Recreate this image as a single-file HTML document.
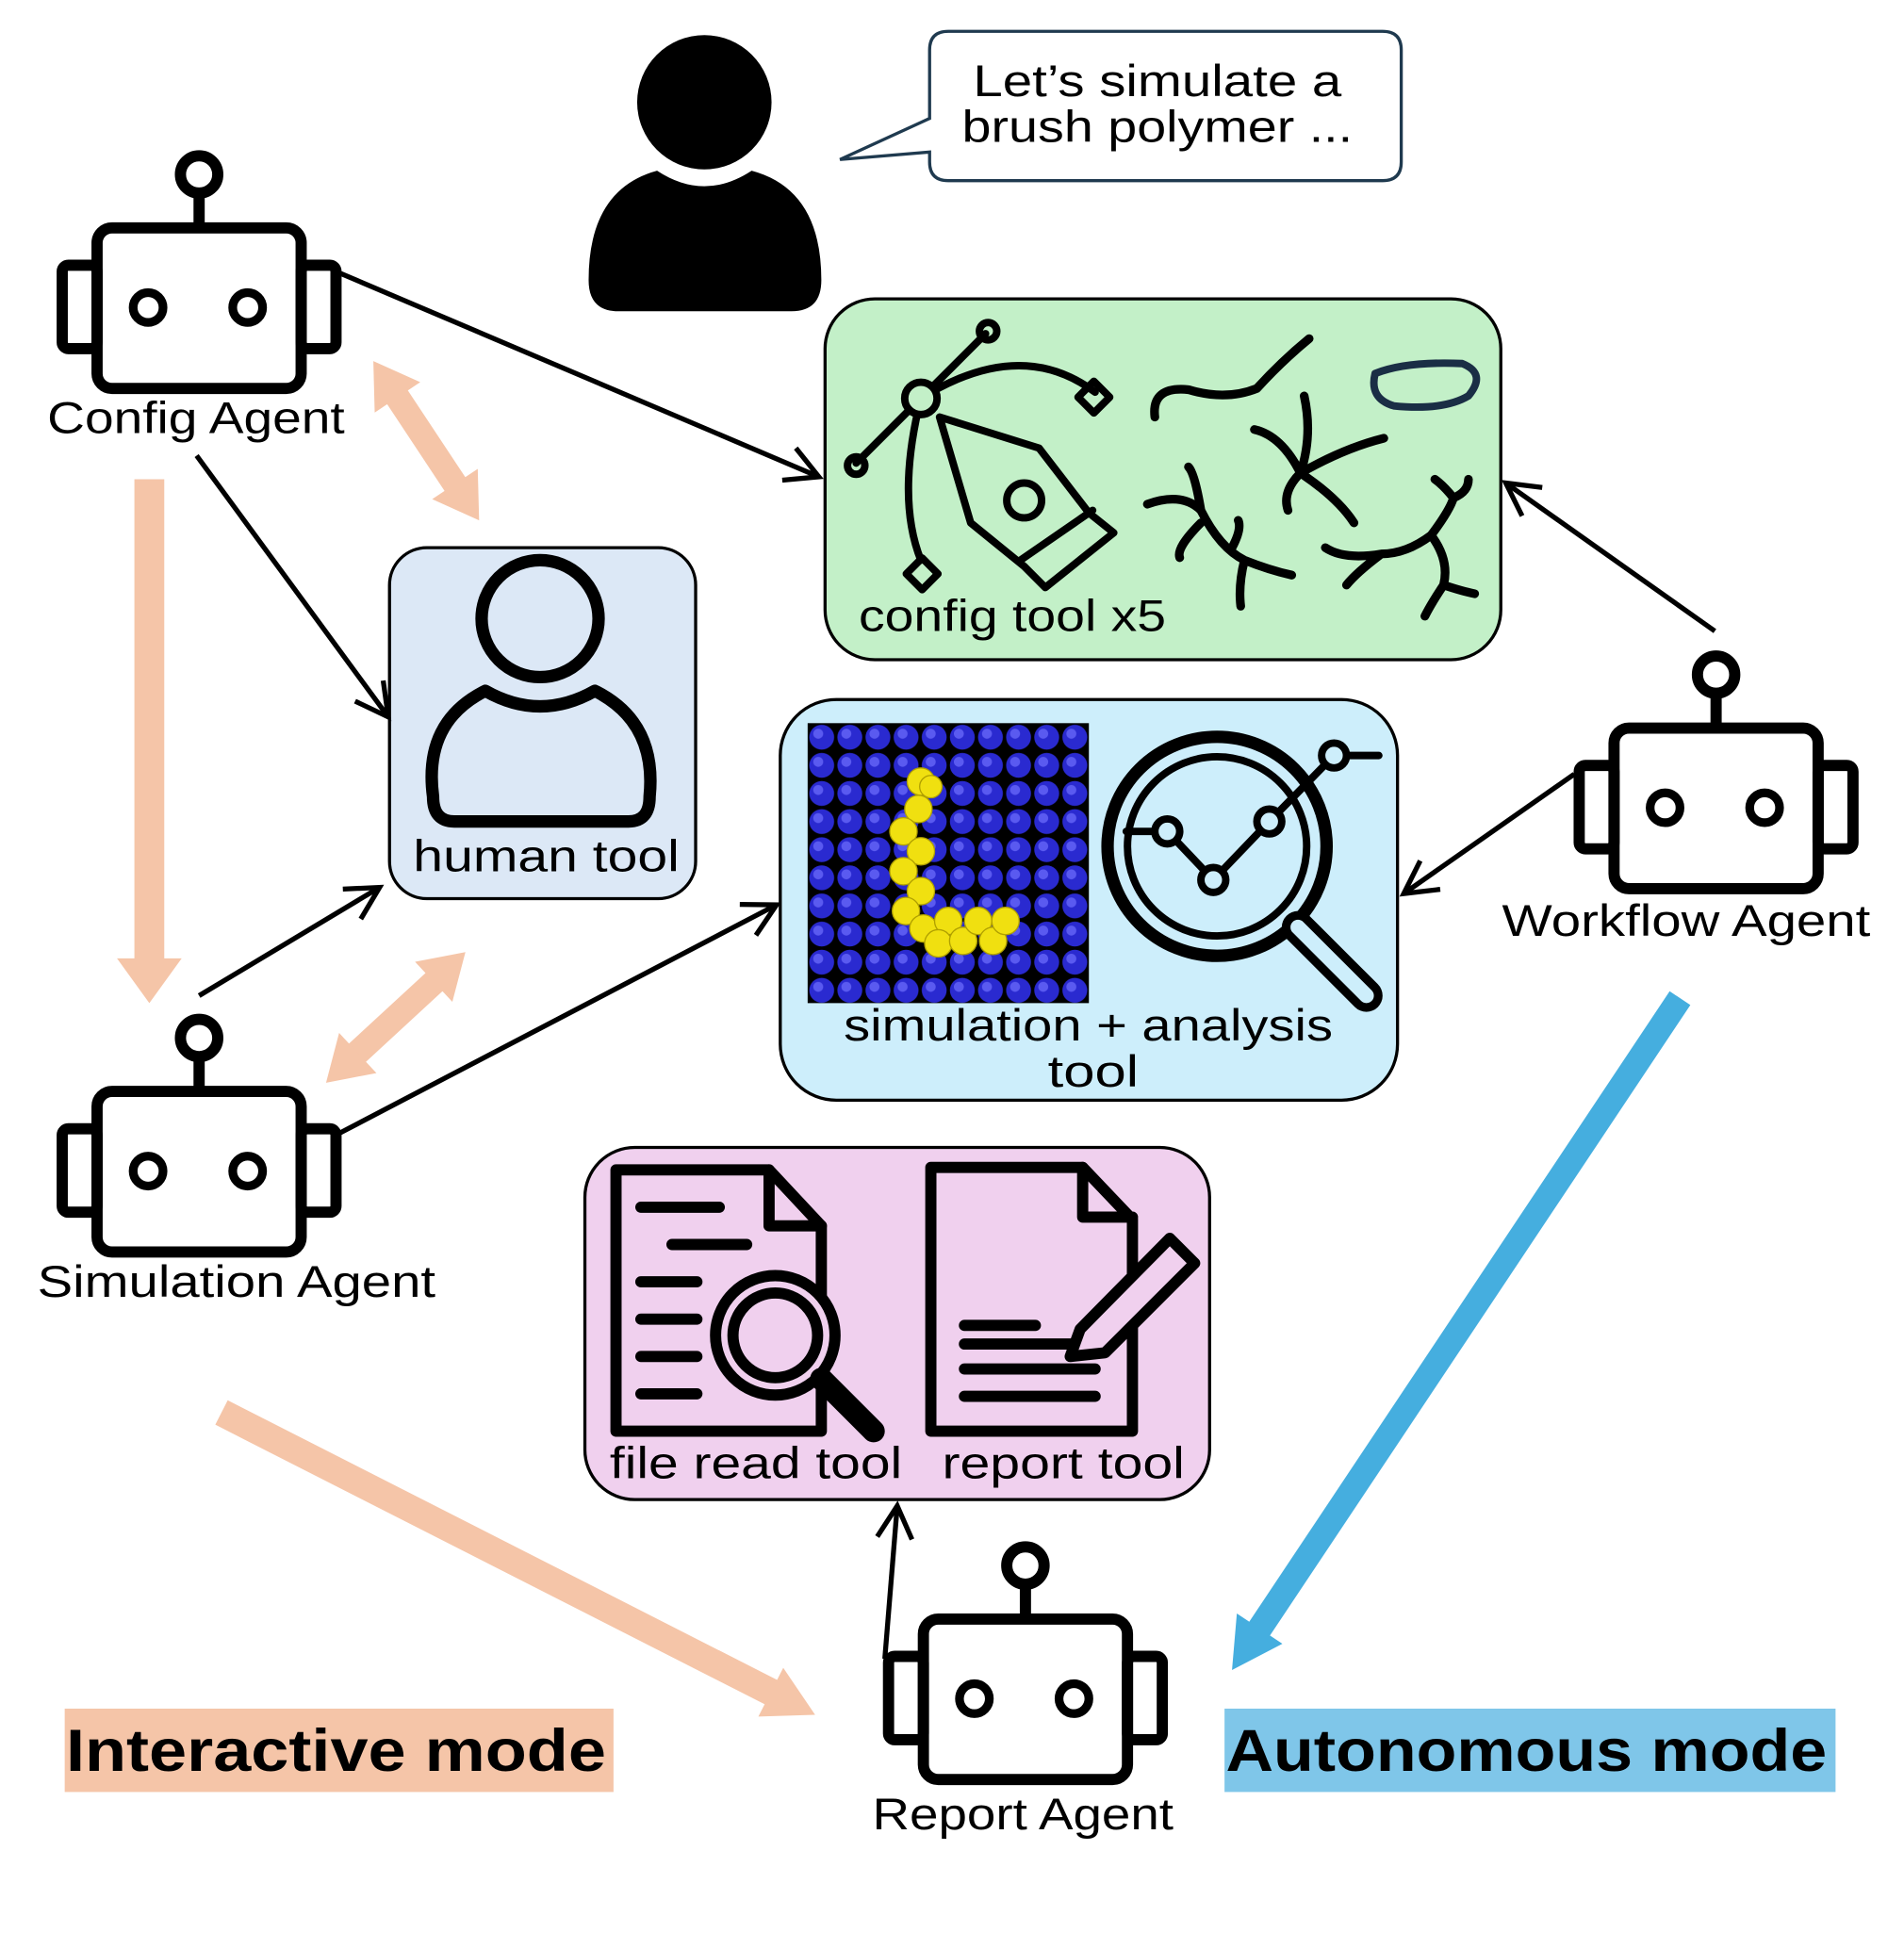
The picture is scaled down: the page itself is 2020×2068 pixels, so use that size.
<!DOCTYPE html>
<html><head><meta charset="utf-8"><style>
html,body{margin:0;padding:0;background:#fff}
svg{display:block}
text{font-family:"Liberation Sans","DejaVu Sans",sans-serif}
</style></head><body>
<svg width="2020" height="2068" viewBox="0 0 1530 1566" xmlns="http://www.w3.org/2000/svg">
<defs>
<marker id="oa" markerUnits="userSpaceOnUse" markerWidth="40" markerHeight="40" refX="30" refY="18" orient="auto">
<path d="M4,4 L30,18 L4,32" fill="none" stroke="#000" stroke-width="4"/>
</marker>
<pattern id="dots" x="649" y="581" width="22.6" height="22.6" patternUnits="userSpaceOnUse">
<rect width="22.6" height="22.6" fill="#000"/>
<circle cx="11.3" cy="11.3" r="10" fill="#2a2ad0"/>
<circle cx="8.5" cy="8.5" r="4" fill="#5a5af0"/>
</pattern>
<g id="robot" fill="none" stroke="#000" stroke-width="9" stroke-linejoin="round">
<circle cx="82" cy="-43" r="15"/>
<line x1="82" y1="-28" x2="82" y2="0"/>
<rect x="0" y="0" width="164" height="129" rx="12"/>
<rect x="-28" y="30" width="28" height="67" rx="5"/>
<rect x="164" y="30" width="28" height="67" rx="5"/>
<circle cx="41" cy="64" r="12" stroke-width="7"/>
<circle cx="121" cy="64" r="12" stroke-width="7"/>
</g>
</defs>

<!-- peach arrows -->
<g stroke="#f5c5a8" fill="none">
<line x1="120" y1="385" x2="120" y2="772" stroke-width="24"/>
<line x1="318" y1="317" x2="367" y2="391" stroke-width="20"/>
<line x1="286" y1="847" x2="350" y2="788" stroke-width="20"/>
<line x1="178" y1="1135" x2="622" y2="1361" stroke-width="22"/>
</g>
<g fill="#f5c5a8">
<polygon points="94,770 146,770 120,806"/>
<polygon points="300,290 301.1,331.4 337.7,307"/>
<polygon points="385,418 347.3,401 383.9,376.6"/>
<polygon points="262,870 302.5,862.2 272.5,830"/>
<polygon points="374,765 363.5,805 333.5,772.8"/>
<polygon points="655,1378 609.4,1379.4 629.4,1340.2"/>
</g>
<line x1="1350" y1="802" x2="1012" y2="1309" stroke="#45aedf" stroke-width="20"/>
<polygon points="990,1342 1030.5,1320.9 993.9,1296.5" fill="#45aedf"/>

<!-- person -->
<circle cx="566" cy="82" r="54" fill="#000"/>
<path d="M473,225 Q473,152 528,137 Q566,162 604,137 Q660,152 660,225 Q660,250 636,250 L497,250 Q473,250 473,225Z" fill="#000"/>

<!-- speech bubble -->
<path d="M762,25 L1111,25 Q1126,25 1126,40 L1126,130 Q1126,145 1111,145 L762,145 Q747,145 747,130 L747,122 L675,128 L747,95 L747,40 Q747,25 762,25Z" fill="#fff" stroke="#1f3a4f" stroke-width="2.5"/>
<text x="782" y="77" font-size="36" textLength="296" lengthAdjust="spacingAndGlyphs">Let’s simulate a</text>
<text x="773" y="114" font-size="36" textLength="314" lengthAdjust="spacingAndGlyphs">brush polymer ...</text>

<!-- green config box -->
<rect x="663" y="240" width="543" height="290" rx="40" fill="#c3f0c8" stroke="#000" stroke-width="2.5"/>
<g fill="none" stroke="#000" stroke-width="6" stroke-linecap="round" stroke-linejoin="round">
<path d="M740,320 Q720,400 740,450"/>
<path d="M740,320 Q820,270 880,315"/>
<line x1="740" y1="320" x2="688" y2="372"/>
<line x1="740" y1="320" x2="792" y2="268"/>
<circle cx="740" cy="320" r="13" fill="#c3f0c8"/>
<circle cx="688" cy="374" r="7"/>
<circle cx="794" cy="266" r="7"/>
<rect x="870" y="310" width="18" height="18" transform="rotate(45 879 319)"/>
<rect x="732" y="452" width="18" height="18" transform="rotate(45 741 461)"/>
<path d="M755,335 L835,360 L875,412 L895,428 L840,472 L823,455 L780,420 Z"/>
<circle cx="823" cy="402" r="14"/>
<line x1="820" y1="450" x2="878" y2="410"/>
<path d="M928,335 Q925,310 955,313 Q985,322 1010,312 Q1030,290 1052,272" stroke-width="7"/>
<path d="M1008,345 Q1030,350 1045,380 Q1055,350 1048,318 M1045,380 Q1080,360 1112,352 M1045,380 Q1075,400 1088,420 M1045,380 Q1030,395 1035,410" stroke-width="7"/>
<path d="M922,405 Q950,395 965,410 Q980,440 1000,450 Q1020,458 1038,462 M965,410 Q960,380 955,375 M965,420 Q945,440 948,448 M1000,450 Q995,470 997,487 M990,440 Q998,425 995,418" stroke-width="7"/>
<path d="M1065,440 Q1080,450 1110,445 Q1130,445 1150,430 Q1165,410 1168,400 M1150,430 Q1165,450 1160,470 Q1150,485 1145,495 M1110,445 Q1090,460 1082,470 M1160,470 Q1175,475 1185,477 M1168,400 Q1160,390 1153,385 M1168,400 Q1180,395 1180,385" stroke-width="7"/>
<path d="M1105,300 Q1130,290 1175,292 Q1195,300 1180,318 Q1160,330 1120,326 Q1100,320 1105,300Z" stroke="#1a2e45" stroke-width="6"/>
</g>
<text x="690" y="507" font-size="36" textLength="247" lengthAdjust="spacingAndGlyphs">config tool x5</text>

<!-- human tool -->
<rect x="313" y="440" width="246" height="282" rx="30" fill="#dce8f6" stroke="#000" stroke-width="2.5"/>
<circle cx="434" cy="497" r="47" fill="none" stroke="#000" stroke-width="10"/>
<path d="M348,640 Q340,580 390,555 Q434,580 478,555 Q528,580 522,640 Q522,660 505,660 L365,660 Q348,660 348,640Z" fill="none" stroke="#000" stroke-width="10" stroke-linejoin="round"/>
<text x="332" y="700" font-size="36" textLength="214" lengthAdjust="spacingAndGlyphs">human tool</text>

<!-- simulation box -->
<rect x="627" y="562" width="496" height="322" rx="45" fill="#cdeefb" stroke="#000" stroke-width="2.5"/>
<rect x="649" y="581" width="226" height="225" fill="url(#dots)"/>
<g fill="#f0e010" stroke="#b0a000" stroke-width="1">
<circle cx="740" cy="628" r="11"/><circle cx="738" cy="650" r="11"/><circle cx="726" cy="668" r="11"/>
<circle cx="740" cy="684" r="11"/><circle cx="726" cy="700" r="11"/><circle cx="740" cy="716" r="11"/>
<circle cx="728" cy="732" r="11"/><circle cx="742" cy="746" r="11"/><circle cx="762" cy="740" r="11"/>
<circle cx="754" cy="758" r="11"/><circle cx="774" cy="756" r="11"/><circle cx="786" cy="740" r="11"/>
<circle cx="798" cy="756" r="11"/><circle cx="808" cy="740" r="11"/><circle cx="748" cy="632" r="9"/>
</g>
<g fill="none" stroke="#000" stroke-linecap="round" stroke-linejoin="round">
<circle cx="978" cy="680" r="88" stroke-width="10"/>
<circle cx="978" cy="680" r="72" stroke-width="6"/>
<path d="M1043,745 L1098,800" stroke-width="26"/>
<path d="M1043,745 L1098,800" stroke-width="12" stroke="#cdeefb"/>
<polyline points="905,668 938,668 975,707 1020,660 1072,607 1108,607" stroke-width="6"/>
<circle cx="938" cy="668" r="10" fill="#cdeefb" stroke-width="6"/>
<circle cx="975" cy="707" r="10" fill="#cdeefb" stroke-width="6"/>
<circle cx="1020" cy="660" r="10" fill="#cdeefb" stroke-width="6"/>
<circle cx="1072" cy="607" r="10" fill="#cdeefb" stroke-width="6"/>
</g>
<text x="678" y="836" font-size="36" textLength="393" lengthAdjust="spacingAndGlyphs">simulation + analysis</text>
<text x="842" y="873" font-size="36" textLength="73" lengthAdjust="spacingAndGlyphs">tool</text>

<!-- pink box -->
<rect x="470" y="922" width="502" height="283" rx="40" fill="#f0d0ee" stroke="#000" stroke-width="2.5"/>
<g fill="none" stroke="#000" stroke-width="9" stroke-linecap="round" stroke-linejoin="round">
<path d="M495,940 L618,940 L660,985 L660,1150 L495,1150 Z"/>
<path d="M618,940 L618,985 L660,985"/>
<line x1="515" y1="970" x2="578" y2="970"/>
<line x1="540" y1="1000" x2="600" y2="1000"/>
<line x1="515" y1="1030" x2="560" y2="1030"/>
<line x1="515" y1="1060" x2="560" y2="1060"/>
<line x1="515" y1="1090" x2="560" y2="1090"/>
<line x1="515" y1="1120" x2="560" y2="1120"/>
<circle cx="623" cy="1073" r="48" fill="#f0d0ee"/>
<circle cx="623" cy="1073" r="34"/>
<line x1="660" y1="1108" x2="702" y2="1150" stroke-width="18"/>
<path d="M748,938 L870,938 L910,980 L910,1150 L748,1150 Z"/>
<path d="M870,938 L870,978 L910,978"/>
<line x1="775" y1="1065" x2="832" y2="1065"/>
<line x1="775" y1="1080" x2="870" y2="1080"/>
<line x1="775" y1="1100" x2="880" y2="1100"/>
<line x1="775" y1="1122" x2="880" y2="1122"/>
<path d="M860,1090 L868,1068 L940,995 L960,1015 L888,1087 Z" fill="#f0d0ee"/>
</g>
<text x="490" y="1188" font-size="36" textLength="235" lengthAdjust="spacingAndGlyphs">file read tool</text>
<text x="757" y="1188" font-size="36" textLength="195" lengthAdjust="spacingAndGlyphs">report tool</text>

<!-- black connectors -->
<g stroke="#000" stroke-width="4" fill="none">
<line x1="270" y1="218" x2="658" y2="383" marker-end="url(#oa)"/>
<line x1="158" y1="366" x2="312" y2="576" marker-end="url(#oa)"/>
<line x1="160" y1="800" x2="305" y2="713" marker-end="url(#oa)"/>
<line x1="270" y1="912" x2="624" y2="727" marker-end="url(#oa)"/>
<line x1="1378" y1="507" x2="1210" y2="388" marker-end="url(#oa)"/>
<line x1="1265" y1="622" x2="1128" y2="718" marker-end="url(#oa)"/>
<line x1="711" y1="1333" x2="721" y2="1210" marker-end="url(#oa)"/>
</g>

<!-- robots -->
<use href="#robot" x="78" y="183"/>
<use href="#robot" x="78" y="877"/>
<use href="#robot" x="1297" y="585"/>
<use href="#robot" x="742" y="1301"/>
<text x="38" y="348" font-size="36" textLength="239" lengthAdjust="spacingAndGlyphs">Config Agent</text>
<text x="30" y="1042" font-size="36" textLength="320" lengthAdjust="spacingAndGlyphs">Simulation Agent</text>
<text x="1207" y="752" font-size="36" textLength="296" lengthAdjust="spacingAndGlyphs">Workflow Agent</text>
<text x="701" y="1470" font-size="36" textLength="242" lengthAdjust="spacingAndGlyphs">Report Agent</text>

<!-- mode labels -->
<rect x="52" y="1373" width="441" height="67" fill="#f5c5a8"/>
<text x="53" y="1423" font-size="48" font-weight="bold" textLength="434" lengthAdjust="spacingAndGlyphs">Interactive mode</text>
<rect x="984" y="1373" width="491" height="67" fill="#7fc6e9"/>
<text x="985" y="1423" font-size="48" font-weight="bold" textLength="483" lengthAdjust="spacingAndGlyphs">Autonomous mode</text>
</svg>
</body></html>
